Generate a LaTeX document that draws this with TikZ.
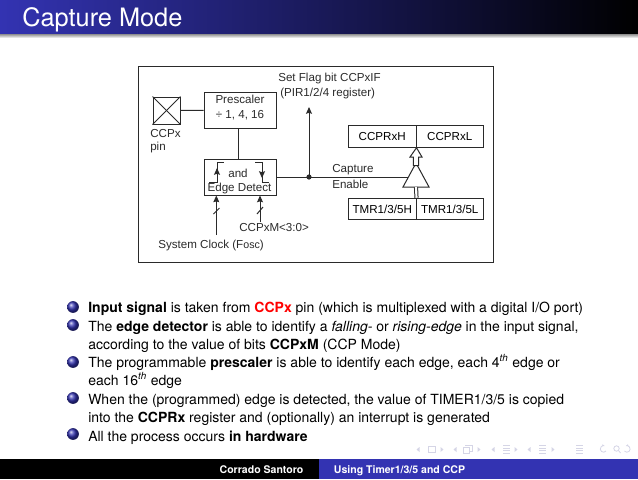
\documentclass[tikz,border=0pt]{standalone}
\usepackage{fontspec}
\setmainfont{TeX Gyre Heros}
\newfontfamily\figfont{Liberation Sans}
\usepackage{xcolor}
\usetikzlibrary{calc,arrows.meta,positioning}
\definecolor{ink}{HTML}{2A2A2A}
\definecolor{barblue}{HTML}{3333B2}
\definecolor{navgray}{HTML}{D5D5E6}
\definecolor{alertred}{HTML}{FF0000}
\tikzset{
  wire/.style={draw=ink, line width=0.75pt},
  arr/.style={wire, -{Stealth[length=5pt,width=4.4pt,inset=0.6pt]}},
  block/.style={draw=ink, line width=0.75pt, inner sep=0pt, minimum width=72*0.75pt, minimum height=36*0.75pt},
  reg/.style={draw=ink, line width=0.75pt, inner sep=0pt, minimum width=67.5*0.75pt, minimum height=21.5*0.75pt, font=\figfont\fontsize{8.7}{10}\selectfont},
  lab/.style={text=ink, inner sep=0pt, anchor=west, font=\figfont\fontsize{8.7}{10}\selectfont},
  labc/.style={lab, anchor=center},
  item/.style={text=black, inner sep=0pt, anchor=base west, font=\fontsize{10.5}{13}\selectfont},
  ballmark/.style={circle, inner sep=0pt, minimum size=8.8pt, shading=ball, ball color=barblue},
  foot/.style={text=white, inner sep=0pt, anchor=base, font=\fontsize{7.9}{9}\selectfont\bfseries},
  nav/.style={draw=navgray, line width=0.6pt},
  navtip/.style={fill=navgray},
}
\begin{document}
\begin{tikzpicture}[x=0.75pt,y=-0.75pt]
\useasboundingbox (0,0) rectangle (638,479);
% title and foot bars
\shade[top color=black!55, bottom color=white] (0,33) rectangle (638,38);
\shade[left color=barblue, right color=black] (0,0) rectangle (638,33);
\node[text=white, inner sep=0pt, anchor=base west, font=\fontsize{19}{22}\selectfont] (title) at (22,26) {Capture Mode};
\fill[black] (0,459) rectangle (319,479);
\fill[barblue] (319,459) rectangle (638,479);
\node[foot] (author) at (261.5,473.5) {Corrado Santoro};
\node[foot] (talk) at (399.5,473.5) {Using Timer1/3/5 and CCP};
% figure frame
\draw[wire] (138.5,66) rectangle (493.5,262);
\node[draw=ink, line width=0.75pt, inner sep=0pt, minimum size=27*0.75pt] (pin) at (166.5,110.5) {};
\draw[wire] (pin.north west) -- (pin.south east);
\draw[wire] (pin.north east) -- (pin.south west);
\node[lab] (pinA) at (150,134) {CCPx};
\node[lab] (pinB) at (150,147) {pin};
\node[block] (prescaler) at (240,110) {};
\node[labc] (prescA) at (240,99) {Prescaler};
\node[labc] (prescB) at (240,115) {÷ 1, 4, 16};
\node[block] (edge) at (240,177) {};
\node[labc] (andlab) at (238,173) {and};
\node[labc] (edgelab) at (239.5,188) {Edge Detect};
\draw[wire] (pin) -- (prescaler);
\draw[wire] (238.3,128) -- (238.3,159);
% edge symbols
\draw[wire] (209,182) -- (217,182) -- (217,162) -- (224,162);
\draw[arr] (217,180) -- (217,168);
\draw[wire] (255,162) -- (262,162) -- (262,182) -- (269,182);
\draw[arr] (262,166) -- (262,178);
% capture path
\coordinate (split) at (309,177);
\coordinate (triL) at (403,187);
\coordinate (triR) at (429,187);
\coordinate (triT) at (416,163);
\coordinate (triM) at (416,187);
\coordinate (triE) at (408.5,177);
\coordinate (flag) at (309,107);
\draw[wire] (edge.east |- split) -- (triE);
\fill[ink] (split) circle (2.6);
\draw[arr] (split) -- (flag);
\draw[wire, fill=white] (triL) -- (triT) -- (triR) -- cycle;
\node[lab] (flagA) at (278,78) {Set Flag bit CCPxIF};
\node[lab] (flagB) at (280,93) {(PIR1/2/4 register)};
\node[lab] (capA) at (332,170) {Capture};
\node[lab] (capB) at (332,184) {Enable};
% registers
\node[reg] (ccprH) at (382.25,136.5) {CCPRxH};
\node[reg] (ccprL) at (449.75,136.5) {CCPRxL};
\node[reg] (tmrH) at (382.25,209) {TMR1/3/5H};
\node[reg] (tmrL) at (449.75,209) {TMR1/3/5L};
\draw[wire, double=white, double distance=1.6pt] (tmrH.north east) -- (triM);
\draw[wire, fill=white, line join=miter] (ccprH.south east) -- (422,157) -- (418.7,157) -- (418.7,165.5) -- (413.3,165.5) -- (413.3,157) -- (410,157) -- cycle;
% inputs
\coordinate (clk) at (216.3,235);
\coordinate (mode) at (260,222);
\draw[arr] (clk) -- (clk |- edge.south);
\draw[arr] (mode) -- (mode |- edge.south);
\draw[wire] (213.5,214) -- (219.5,208);
\draw[wire] (257,214) -- (263,207);
\node[lab] (modelab) at (239,228) {CCPxM<3:0>};
\node[lab] (clklab) at (158,245) {System Clock (F{\fontsize{8}{9}\selectfont osc})};
% bullets
\foreach \y/\n in {307/a,325/b,362/c,398/d,434/e}
  \node[ballmark] (ball\n) at (73,\y) {};
\node[item] (l1) at (88,312) {\textbf{Input signal} is taken from \textcolor{alertred}{\textbf{CCPx}} pin (which is multiplexed with a digital I/O port)};
\node[item] (l2) at (88,331) {The \textbf{edge detector} is able to identify a \textit{falling-} or \textit{rising-edge} in the input signal,};
\node[item] (l3) at (88,349) {according to the value of bits \textbf{CCPxM} (CCP Mode)};
\node[item] (l4) at (88,367) {The programmable \textbf{prescaler} is able to identify each edge, each 4$^{\mathit{th}}$ edge or};
\node[item] (l5) at (88,385) {each 16$^{\mathit{th}}$ edge};
\node[item] (l6) at (88,404) {When the (programmed) edge is detected, the value of TIMER1/3/5 is copied};
\node[item] (l7) at (88,422) {into the \textbf{CCPRx} register and (optionally) an interrupt is generated};
\node[item] (l8) at (88,441) {All the process occurs \textbf{in hardware}};
% navigation symbols
\foreach \x in {442,479,516,553}
  \fill[navtip] (\x-1.5,447) -- (\x+1.5,449.5) -- (\x-1.5,452) -- cycle;
\foreach \x in {418,455,493,529}
  \fill[navtip] (\x+1.5,447) -- (\x-1.5,449.5) -- (\x+1.5,452) -- cycle;
\draw[nav] (428,446.5) rectangle (435,452.5);
\draw[nav] (463,447.5) rectangle (469,453);
\draw[nav] (465,445.5) -- (472,445.5) -- (472,451) -- (469,451);
\foreach \x in {503,539,576}
  \foreach \y in {445.5,448,450.5,453}
    \draw[nav] (\x,\y) -- (\x+7,\y);
\draw[nav, ->, >={Stealth[length=2pt]}] (605.95,451.06) arc (40:290:3.2);
\draw[nav] (616.5,448.5) circle (2.7);
\draw[nav] (618.5,450.5) -- (620.5,453);
\draw[nav, ->, >={Stealth[length=2pt]}] (624.5,451.06) arc (140:-110:3.2);
\end{tikzpicture}
\end{document}
